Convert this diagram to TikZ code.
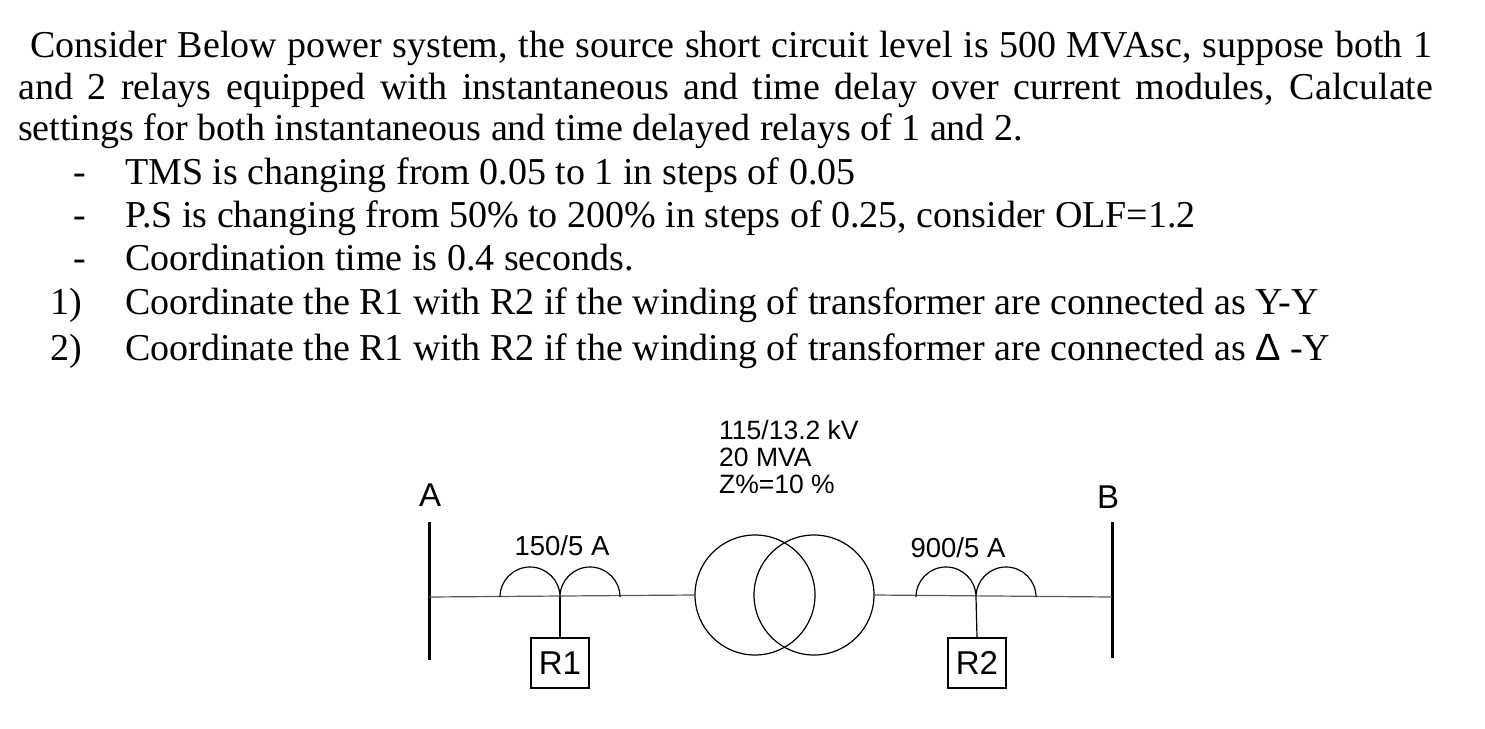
\documentclass[tikz,border=0pt]{standalone}
\usepackage{fontspec}
\setmainfont{Liberation Serif}
\newfontfamily\arial{Liberation Sans}
\tikzset{
 txt/.style={anchor=base west,inner sep=0pt,font=\fontsize{38}{40}\selectfont},
 lbl/.style={inner sep=0pt,font=\arial\fontsize{27.5}{30}\selectfont},
 bigl/.style={inner sep=0pt,font=\arial\fontsize{33}{33}\selectfont},
 wire/.style={line width=1.2pt,gray!70!black},
 bus/.style={line width=3pt},
 relay/.style={draw,line width=1.2pt,minimum width=58pt,minimum height=50pt,inner sep=0pt,font=\arial\fontsize{33}{33}\selectfont},
}
\newcommand{\jline}[2]{\parbox{#1}{\parfillskip=0pt #2}}
\begin{document}
\begin{tikzpicture}[x=1pt,y=-1pt]
\useasboundingbox (0,0) rectangle (1485,728);
\node[txt] (l1) at (30,55) {\jline{1402pt}{Consider Below power system, the source short circuit level is 500 MVAsc, suppose both 1}};
\node[txt] (l2) at (18,97) {\jline{1415pt}{and 2 relays equipped with instantaneous and time delay over current modules, Calculate}};
\node[txt] (l3) at (18,140) {settings for both instantaneous and time delayed relays of 1 and 2.};
\node[txt] (d1) at (73,184) {-};
\node[txt] (b1) at (125,184) {TMS is changing from 0.05 to 1 in steps of 0.05};
\node[txt] (d2) at (73,227) {-};
\node[txt] (b2) at (125,227) {P.S is changing from 50\% to 200\% in steps of 0.25, consider OLF=1.2};
\node[txt] (d3) at (73,270) {-};
\node[txt] (b3) at (125,270) {Coordination time is 0.4 seconds.};
\node[txt] (n1) at (50,314) {1)};
\node[txt] (q1) at (125,314) {Coordinate the R1 with R2 if the winding of transformer are connected as Y-Y};
\node[txt] (n2) at (50,360) {2)};
\node[txt] (q2) at (125,360) {Coordinate the R1 with R2 if the winding of transformer are connected as {\arial Δ} -Y};
% diagram
\coordinate (a1) at (429,522); \coordinate (a2) at (429,660);
\coordinate (b1c) at (1112,522); \coordinate (b2c) at (1112,658);
\draw[bus] (a1) -- (a2); \draw[bus] (b1c) -- (b2c);
\coordinate (pa) at (429,597); \coordinate (pb) at (1112,597);
\node[draw,circle,line width=1.2pt,minimum size=120pt,inner sep=0pt] (t1) at (755,595) {};
\node[draw,circle,line width=1.2pt,minimum size=120pt,inner sep=0pt] (t2) at (814,595) {};
\draw[wire] (pa) -- (t1.west);
\draw[wire] (t2.east) -- (pb);
\draw[line width=1.2pt] (500,597) arc[start angle=180,end angle=360,radius=30] arc[start angle=180,end angle=360,radius=30];
\draw[line width=1.2pt] (916,597) arc[start angle=180,end angle=360,radius=30] arc[start angle=180,end angle=360,radius=30];
\node[relay] (r1) at (560,663) {R1};
\node[relay] (r2) at (977,663) {R2};
\coordinate (c1) at (560,597); \coordinate (c2) at (976,597);
\draw[line width=1.2pt] (c1) -- (r1.north);
\draw[line width=1.2pt] (c2) -- (r2.north);
\node[bigl] (la) at (430,495) {A};
\node[bigl] (lb) at (1108,497) {B};
\node[lbl] (ct1) at (562,546) {150/5 A};
\node[lbl] (ct2) at (958,548) {900/5 A};
\node[lbl,anchor=north west,align=left,font=\arial\fontsize{26.5}{27}\selectfont] (tx) at (719,420) {115/13.2 kV\\20 MVA\\Z\%=10 \%};
\end{tikzpicture}
\end{document}
